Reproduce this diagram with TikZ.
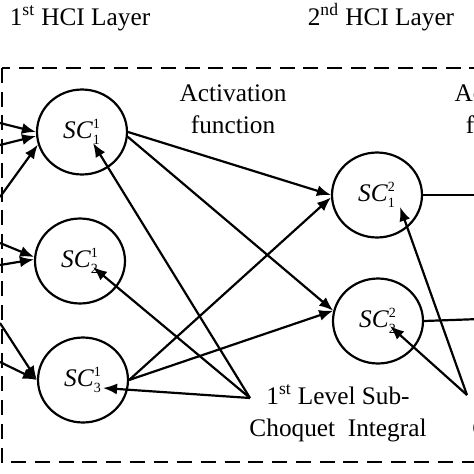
\documentclass[tikz,border=0pt]{standalone}
\usepackage{fontspec}
\setmainfont{Liberation Serif}
\usetikzlibrary{arrows.meta,shapes.geometric}

\begin{document}
\begin{tikzpicture}[x=0.02cm,y=-0.02cm,line width=1.25pt,>={Latex[length=8pt,width=6.3pt]},
  every node/.style={font=\fontsize{14.4}{18.2}\selectfont}]
\useasboundingbox (0,0) rectangle (474,474);
\clip (0,0) rectangle (474,474);

% dashed frame, runs on past the right edge
\draw[line width=1.7pt,dash pattern=on 8.5pt off 5pt] (2,68) rectangle (620,462);

\node[anchor=base] (hci1) at (80,25) {1\textsuperscript{st} HCI Layer};
\node[anchor=base] (hci2) at (381,25) {2\textsuperscript{nd} HCI Layer};
\node[align=center,anchor=base] (act1) at (233,133) {Activation\\function};
\node[align=center,anchor=base] (act2) at (508,133) {Activation\\function};
\node[align=center,anchor=base] (lev1) at (338,436) {1\textsuperscript{st} Level Sub-\\Choquet~ Integral};
\node[align=center,anchor=base] (lev2) at (561,436) {2\textsuperscript{nd} Level Sub-\\Choquet~ Integral};

\foreach \x/\y/\n/\p/\q in {82/132/a1/1/1, 80/261/a2/1/2, 83/380/a3/1/3, 377/195/b1/2/1, 378/321/b2/2/2}
  \node[ellipse,draw,inner sep=0mm,minimum width=1.8cm,minimum height=1.7cm] (\n) at (\x,\y)
    {\textit{SC}$^{\hbox{\fontsize{8}{8}\selectfont\p}}_{\hbox{\fontsize{8}{8}\selectfont\q}}$};

\foreach \n/\y in {in1/123, in2/145, in3/197, in4/243, in5/265, in6/323, in7/362}
  \coordinate (\n) at (0,\y);
\coordinate (lv1) at (250,398);
\coordinate (lv2) at (467,395);
\coordinate (out1) at (480,195);
\coordinate (out2) at (480,319);

\foreach \s/\t in {in1/a1.west, in2/a1.185, in3/a1.196, in4/a2.175, in5/a2.178, in6/a3.west, in7/a3.west,
                   a1.east/b1.west, a1.354/b2.167, a3.east/b1.183, a3.east/b2.167}
  \draw[->] (\s) -- (\t);
\foreach \t/\dx/\dy in {a1/11/11, a2/13/6, a3/20/8}
  \draw[->] (lv1) -- ([shift={(\dx,\dy)}]\t.center);
\foreach \t/\dx/\dy in {b1/23/12, b2/12/5}
  \draw[->] (lv2) -- ([shift={(\dx,\dy)}]\t.center);
\draw (b1.east) -- (out1);
\draw (b2.east) -- (out2);
\end{tikzpicture}
\end{document}
